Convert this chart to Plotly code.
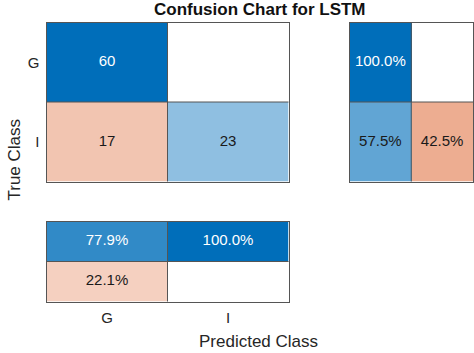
import plotly.graph_objects as go

classes = ["G", "I"]
counts = [[60, 0], [17, 23]]           # rows: true class, cols: predicted
row_pct = [[100.0, 0.0], [57.5, 42.5]]  # row-normalized summary
col_pct = [[77.9, 100.0], [22.1, 0.0]]  # column-normalized summary
row_diag = [[True, False], [True, False]]  # blue (correct) vs red (wrong)
col_diag = [[True, True], [False, False]]

W, H = 474, 353
BLUE = (0, 110, 186)
RED = (217, 83, 25)
FONT = "Liberation Sans, Arial, sans-serif"
EDGE = "#555555"


def mix(base, a):
    a = a ** 0.86
    r, g, b = [round(255 * (1 - a) + c * a) for c in base]
    return f"rgb({r},{g},{b})"


def heat(z_vals, frac, is_blue, xa, ya):
    colors, idx = [], []
    for i, row in enumerate(z_vals):
        r_idx = []
        for j, v in enumerate(row):
            col = "rgb(255,255,255)" if v == 0 else mix(BLUE if is_blue[i][j] else RED, frac[i][j])
            colors.append(col)
            r_idx.append(len(colors) - 1)
        idx.append(r_idx)
    n = len(colors)
    cs = []
    for k, c in enumerate(colors):
        cs.append([k / n, c])
        cs.append([(k + 1) / n, c])
    return go.Heatmap(z=[[k + 0.5 for k in r] for r in idx], x=[0, 1], y=[0, 1],
                      colorscale=cs, zmin=0, zmax=n, showscale=False,
                      hoverinfo="skip", xaxis=xa, yaxis=ya)


fig = go.Figure()

mx = max(max(r) for r in counts)
cnt_frac = [[v / mx for v in r] for r in counts]
cnt_blue = [[i == j for j in range(2)] for i in range(2)]
rp_frac = [[v / 100 for v in r] for r in row_pct]
cp_frac = [[v / 100 for v in r] for r in col_pct]

sets = [
    (counts, cnt_frac, cnt_blue, [[str(v) for v in r] for r in counts], "x", "y"),
    (row_pct, rp_frac, row_diag, [[f"{v:.1f}%" for v in r] for r in row_pct], "x2", "y2"),
    (col_pct, cp_frac, col_diag, [[f"{v:.1f}%" for v in r] for r in col_pct], "x3", "y3"),
]

for z_vals, frac, blue, labels, xa, ya in sets:
    fig.add_trace(heat(z_vals, frac, blue, xa, ya))
    xs, ys, ts, cols = [], [], [], []
    for i, row in enumerate(z_vals):
        for j, v in enumerate(row):
            if v != 0:
                xs.append(j)
                ys.append(i)
                ts.append(labels[i][j])
                cols.append("white" if frac[i][j] > 0.6 else "#1a1a1a")
    fig.add_trace(go.Scatter(x=xs, y=ys, text=ts, mode="text",
                             textfont=dict(family=FONT, size=15, color=cols),
                             hoverinfo="skip", showlegend=False, xaxis=xa, yaxis=ya))


def px_x(a, b):
    return [a / W, b / W]


def px_y(top, bottom):
    return [1 - bottom / H, 1 - top / H]


ax_common = dict(range=[-0.5, 1.5], showgrid=False, zeroline=False,
                 showline=True, mirror=True, linecolor=EDGE, linewidth=1,
                 ticks="", fixedrange=True)
tickf = dict(family=FONT, size=15, color="#262626")

fig.update_layout(
    width=W, height=H, margin=dict(l=0, r=0, t=0, b=0),
    paper_bgcolor="white", plot_bgcolor="white", showlegend=False,
    font=dict(family=FONT, size=15, color="#262626"),
    xaxis=dict(domain=px_x(46.5, 288.5), showticklabels=False, anchor="y", **ax_common),
    yaxis=dict(domain=px_y(22.5, 181.5), anchor="x", autorange=False, tickmode="array",
               tickvals=[0, 1], ticktext=classes, ticklabelstandoff=3, tickfont=tickf,
               **{**ax_common, "range": [1.5, -0.5]}),
    xaxis2=dict(domain=px_x(349.5, 473), showticklabels=False, anchor="y2", **ax_common),
    yaxis2=dict(domain=px_y(22.5, 181.5), showticklabels=False, anchor="x2",
                **{**ax_common, "range": [1.5, -0.5]}),
    xaxis3=dict(domain=px_x(46.5, 288.5), anchor="y3", tickmode="array",
                tickvals=[0, 1], ticktext=classes, ticklabelstandoff=2, tickfont=tickf,
                **ax_common),
    yaxis3=dict(domain=px_y(221.5, 301.5), showticklabels=False, anchor="x3",
                **{**ax_common, "range": [1.5, -0.5]}),
)

for xa, ya in [("x", "y"), ("x2", "y2"), ("x3", "y3")]:
    fig.add_shape(type="line", xref=xa, yref=f"{ya} domain", x0=0.5, x1=0.5, y0=0, y1=1,
                  line=dict(color=EDGE, width=1))
    fig.add_shape(type="line", xref=f"{xa} domain", yref=ya, x0=0, x1=1, y0=0.5, y1=0.5,
                  line=dict(color=EDGE, width=1))

common_ann = dict(xref="paper", yref="paper", showarrow=False,
                  xanchor="center", yanchor="middle")
fig.add_annotation(text="<b>Confusion Chart for LSTM</b>", x=259.5 / W, y=1 - 9.5 / H,
                   font=dict(family=FONT, size=17, color="#111111"), **common_ann)
fig.add_annotation(text="Predicted Class", x=258 / W, y=1 - 341 / H,
                   font=dict(family=FONT, size=17, color="#262626"), **common_ann)
fig.add_annotation(text="True Class", x=13.5 / W, y=1 - 160 / H, textangle=-90,
                   font=dict(family=FONT, size=17, color="#262626"), **common_ann)

fig.write_html("out.html")
